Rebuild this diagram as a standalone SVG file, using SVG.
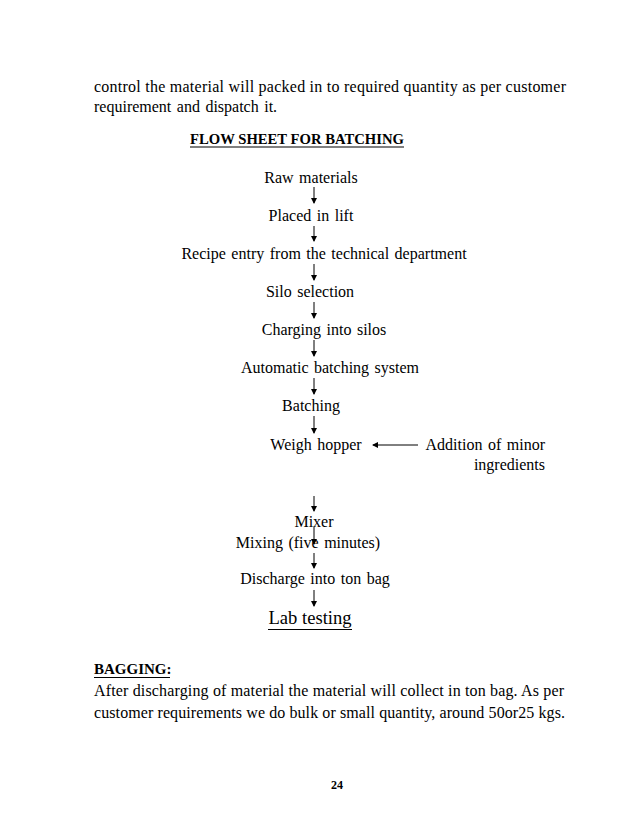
<svg xmlns="http://www.w3.org/2000/svg" width="638" height="826" viewBox="0 0 638 826">
<defs>
<marker id="ah" markerWidth="6" markerHeight="7" refX="5" refY="3" orient="auto" markerUnits="userSpaceOnUse">
<path d="M0,0 L6,3 L0,6 Z" fill="#000"/>
</marker>
</defs>
<style>
text{font-family:"Liberation Serif","Times New Roman",serif;fill:#000}
.b{font-size:16px}
.n{font-size:16px;text-anchor:middle;word-spacing:1.5px}
.h{font-weight:bold}
.c{stroke:#000;stroke-width:1;fill:none;marker-end:url(#ah)}
.u{stroke:#000;stroke-width:1.2}
</style>
<rect width="638" height="826" fill="#fff"/>
<g id="intro">
<text class="b" x="94" y="92" textLength="472" lengthAdjust="spacing">control the material will packed in to required quantity as per customer</text>
<text class="b" x="94" y="112" word-spacing="1.5">requirement and dispatch it.</text>
</g>
<g id="title">
<text class="h" x="190" y="144" font-size="14.5" textLength="214" lengthAdjust="spacingAndGlyphs">FLOW SHEET FOR BATCHING</text>
<line class="u" x1="190" y1="147" x2="404" y2="147"/>
</g>
<g id="n1"><text class="n" x="311" y="183">Raw materials</text></g>
<g id="n2"><text class="n" x="311" y="221">Placed in lift</text></g>
<g id="n3"><text class="n" x="324" y="259">Recipe entry from the technical department</text></g>
<g id="n4"><text class="n" x="310" y="297">Silo selection</text></g>
<g id="n5"><text class="n" x="324" y="335">Charging into silos</text></g>
<g id="n6"><text class="n" x="330" y="373">Automatic batching system</text></g>
<g id="n7"><text class="n" x="311" y="411">Batching</text></g>
<g id="n8"><text class="n" x="316" y="450">Weigh hopper</text></g>
<g id="n9">
<text class="b" x="545" y="450" text-anchor="end" word-spacing="1.5">Addition of minor</text>
<text class="b" x="545" y="470" text-anchor="end">ingredients</text>
</g>
<g id="n10"><text class="n" x="314" y="527">Mixer</text></g>
<g id="n11"><text class="n" x="308" y="548">Mixing (five minutes)</text></g>
<g id="n12"><text class="n" x="315" y="584">Discharge into ton bag</text></g>
<g id="n13">
<text x="310" y="624" font-size="18.6" text-anchor="middle">Lab testing</text>
<line class="u" x1="268" y1="629.5" x2="352" y2="629.5"/>
</g>
<g id="connectors">
<line class="c" x1="314" y1="187" x2="314" y2="203"/>
<line class="c" x1="314" y1="226" x2="314" y2="241"/>
<line class="c" x1="314" y1="264" x2="314" y2="280"/>
<line class="c" x1="314" y1="302" x2="314" y2="318"/>
<line class="c" x1="314" y1="340" x2="314" y2="356"/>
<line class="c" x1="314" y1="378" x2="314" y2="394"/>
<line class="c" x1="314" y1="416" x2="314" y2="433"/>
<line class="c" x1="418" y1="445" x2="373" y2="445"/>
<line class="c" x1="314" y1="496" x2="314" y2="511"/>
<line class="c" x1="314" y1="527" x2="314" y2="544"/>
<line class="c" x1="314" y1="553" x2="314" y2="568"/>
<line class="c" x1="314" y1="590" x2="314" y2="606"/>
</g>
<g id="bagging">
<text class="h" x="94" y="674" font-size="15">BAGGING:</text>
<line class="u" x1="94" y1="677.5" x2="170" y2="677.5"/>
<text class="b" x="94" y="696" textLength="470" lengthAdjust="spacing">After discharging of material the material will collect in ton bag. As per</text>
<text class="b" x="94" y="718" textLength="471" lengthAdjust="spacing">customer requirements we do bulk or small quantity, around 50or25 kgs.</text>
</g>
<g id="page"><text class="h" x="337" y="789" font-size="12" text-anchor="middle">24</text></g>
</svg>
